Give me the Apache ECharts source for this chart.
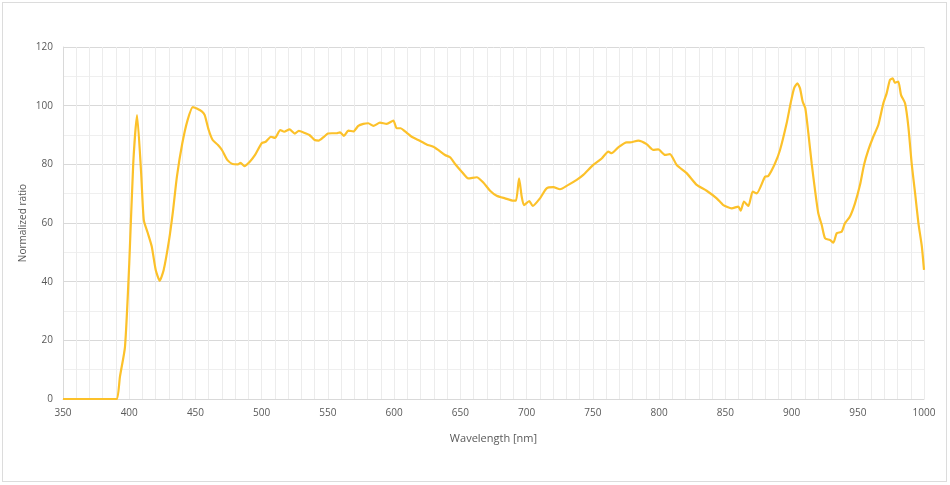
<!DOCTYPE html>
<html>
<head>
<meta charset="utf-8">
<script src="https://cdn.jsdelivr.net/npm/echarts@6/dist/echarts.min.js"></script>
<style>
html,body{margin:0;padding:0;background:#fff;}
#frame{position:absolute;left:2px;top:2px;width:943px;height:478px;border:1px solid #dcdcdc;}
#chart{position:absolute;left:0;top:0;width:950px;height:485px;}
</style>
</head>
<body>
<div id="frame"></div>
<div id="chart"></div>
<script>
const wavelengths = [350,360,370,380,388,390.8,393,396.8,400,403,405.9,409,411,414,417,420,423,426,430,433,436,440,444,448,451,455,457,460,463,467,470,474,478,482,484,487,491,495,500,503,507,510,514,517,521,525,528,532,536,540,543,547,550,
553,556.6,559.1,562.1,565.4,569.2,572.9,576.7,580.5,584.3,589.3,594.4,599.4,601.9,604.9,608.2,613.2,618.2,624.5,629.6,633.3,638.4,642.2,646,651,656,662.3,667.3,672.4,677.4,683.7,690,692,694.3,696.3,698,702,704.6,710.1,715.1,720.2,725.2,731.5,737.8,742.8,750.3,756.7,761.7,764.2,769.2,775.5,
778,784.3,790.6,795.6,799.4,804.5,808.2,813.3,820.8,828.4,835.9,843.5,848.5,854.8,859.8,861.6,864.1,867.4,870.7,873.7,880,882.4,887.5,891.3,896.3,899.3,901.9,904.4,906.4,908.4,910.4,912.7,915.2,917.7,920.2,922.8,925.3,929,931.6,934.1,937.8,940.3,944.1,947.9,951.7,954.7,958,961.7,965.5,969.3,971.8,974.3,976.4,978.1,980.6,982.7,985.7,988.2,990.8,993.3,995.8,998.4,1000];
const ratios = [0,0,0,0,0,0,7.6,17.8,46,80,96.8,77,61,56.6,52,44,40.3,44,54,64,75.8,87,95,99.5,99,98,96.8,91.7,88.3,86.6,84.9,81.5,80.1,80,80.5,79.4,80.9,83.2,87.2,87.7,89.4,89,91.7,91.1,91.9,90.5,91.4,90.8,90,88.3,88.1,89.4,90.5,
90.6,90.6,90.9,89.7,91.5,91.2,93.1,93.8,94,93.1,94.2,93.8,94.9,92.3,92.3,91.2,89.4,88.3,86.8,86,84.9,83.2,82.4,80.1,77.5,75.2,75.6,73.8,71,69.3,68.4,67.6,67.6,75.2,69,66.1,67.5,65.8,68.4,71.8,72.2,71.5,73,74.7,76.4,79.8,82,84.3,83.8,85.8,87.5,
87.5,88.1,86.9,84.9,85.1,83.2,83.5,79.8,77,73,71,68.4,66.1,65,65.6,64.2,67.3,65.8,70.7,70.1,75.8,76,80.3,84.9,94,100.8,105.9,107.6,105.9,101.4,99.1,90.6,80.3,71.3,63.3,59.3,54.8,54.2,53.3,56.5,57,59.9,62.2,66.7,73,79.8,84.9,89.4,93.4,100.8,104.2,108.8,109.3,107.8,108.2,103.6,100.8,92.8,79.8,70.1,59.9,51.9,44];
const xTickLabels = [350,400,450,500,550,600,650,700,750,800,850,900,950,1000];
const yTickLabels = [0,20,40,60,80,100,120];

const points = wavelengths.map((w, i) => [w, ratios[i]]);
const chart = echarts.init(document.getElementById('chart'), null, {renderer: 'canvas'});
const labelFont = {color: '#595959', fontSize: 10, fontFamily: 'Open Sans, Liberation Sans, sans-serif'};
chart.setOption({
  animation: false,
  grid: {left: 63, right: 26, top: 47, bottom: 86, containLabel: false},
  xAxis: {
    type: 'value',
    min: xTickLabels[0], max: xTickLabels[xTickLabels.length - 1], interval: 50,
    name: 'Wavelength [nm]', nameLocation: 'middle', nameGap: 34,
    nameTextStyle: {color: '#595959', fontSize: 11, fontFamily: 'Open Sans, Liberation Sans, sans-serif'},
    axisLine: {show: true, lineStyle: {color: '#d9d9d9', width: 1}},
    axisTick: {show: false},
    axisLabel: Object.assign({margin: 9, formatter: v => xTickLabels.includes(v) ? String(v) : ''}, labelFont),
    splitLine: {show: true, lineStyle: {color: '#ececec', width: 1}},
    minorTick: {show: false, splitNumber: 5},
    minorSplitLine: {show: true, lineStyle: {color: '#ececec', width: 1}}
  },
  yAxis: {
    type: 'value',
    min: yTickLabels[0], max: yTickLabels[yTickLabels.length - 1], interval: 20,
    name: 'Normalized ratio', nameLocation: 'middle', nameGap: 35, nameRotate: 90, nameMoveOverlap: false,
    nameTextStyle: {color: '#595959', fontSize: 10, fontFamily: 'Open Sans, Liberation Sans, sans-serif'},
    axisLine: {show: true, lineStyle: {color: '#d9d9d9', width: 1}},
    axisTick: {show: false},
    axisLabel: Object.assign({margin: 10}, labelFont),
    splitLine: {show: true, lineStyle: {color: '#d9d9d9', width: 1}},
    minorTick: {show: false, splitNumber: 2},
    minorSplitLine: {show: true, lineStyle: {color: '#efefef', width: 1}}
  },
  series: [{
    type: 'line',
    data: points,
    showSymbol: false,
    smooth: 0.2,
    lineStyle: {color: '#fcc12a', width: 2.2},
    itemStyle: {color: '#fcc12a'}
  }]
});
</script>
</body>
</html>
